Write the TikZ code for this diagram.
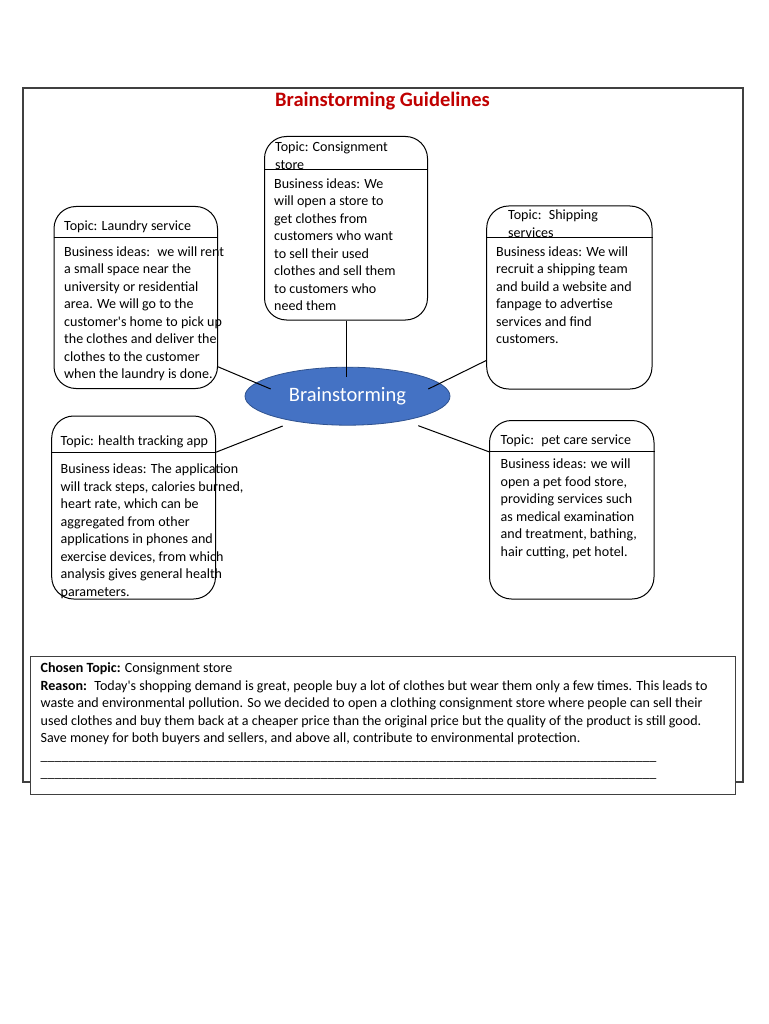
\documentclass[tikz,border=0pt]{standalone}
\usepackage{fontspec}
\setmainfont{Carlito}[Ligatures=TeXOff]
\usetikzlibrary{shapes.geometric,calc}
\definecolor{titlered}{HTML}{C00000}
\definecolor{brainblue}{HTML}{4472C4}
\definecolor{brainedge}{HTML}{2F528F}
\newcommand\fl{\rule{0pt}{12pt}}
\newcommand\usten{\_\_\_\_\_\_\_\_\_\_}
\newcommand\underscoreline{\usten\usten\usten\usten\usten\usten\usten\usten\_\_\_\_\_\_\_\_}
\begin{document}
\begin{tikzpicture}[x=1pt,y=-1pt,
  topicbox/.style={draw=black, line width=1pt, fill=white, rounded corners=22pt, inner sep=0pt},
  txt/.style={anchor=north west, inner sep=0pt, align=left, font=\fontsize{14.05}{17.5}\selectfont},
  link/.style={draw=black, line width=1pt},
  divider/.style={draw=black, line width=0.9pt}]
\useasboundingbox[fill=white] (0,0) rectangle (768,1024);

% outer frame
\node[draw=black!75, line width=1.2pt, minimum width=720pt, minimum height=694pt, inner sep=0pt] (frame) at (383,435) {};

% title
\node[anchor=base, inner sep=0pt, text=titlered, font=\fontsize{20.5}{24}\selectfont\bfseries] (title) at (382.5,107) {Brainstorming Guidelines};

% topic boxes
\node[topicbox, minimum width=163.5pt, minimum height=182pt] (laundry) at (135.75,297.5) {};
\node[topicbox, minimum width=163pt, minimum height=183.5pt] (consign) at (346,228.25) {};
\node[topicbox, minimum width=165.3pt, minimum height=183pt] (ship) at (569.35,297.5) {};
\node[topicbox, minimum width=163.8pt, minimum height=183pt] (health) at (133.6,507.5) {};
\node[topicbox, minimum width=164.5pt, minimum height=178.5pt] (pet) at (571.75,509.75) {};

% dividers
\draw[divider] ($(laundry.north west)+(0,31.2)$) -- ($(laundry.north east)+(0,31.2)$);
\draw[divider] ($(consign.north west)+(0,33.5)$) -- ($(consign.north east)+(0,33.5)$);
\draw[divider] ($(ship.north west)+(0,32.3)$) -- ($(ship.north east)+(0,32.3)$);
\draw[divider] ($(health.north west)+(0,36.7)$) -- ($(health.north east)+(0,36.7)$);
\draw[divider] ($(pet.north west)+(0,31.8)$) -- ($(pet.north east)+(0,31.8)$);

% central ellipse
\node[ellipse, draw=brainedge, line width=0.8pt, fill=brainblue, text=white, inner sep=0pt,
      minimum width=205pt, minimum height=58pt, font=\fontsize{20.5}{24}\selectfont] (brain) at (347.5,396.2) {Brainstorming};

% connectors
\draw[link] (consign.south) -- ($(brain.center)+(-1.5,-19.5)$);
\draw[link] ($(laundry.north east)+(0,160.8)$) -- ($(brain.center)+(-76.8,-7.2)$);
\draw[link] ($(ship.north west)+(0,155)$) -- ($(brain.center)+(80.8,-7.2)$);
\draw[link] ($(health.north east)+(0,36.7)$) -- ($(brain.center)+(-64.8,29.8)$);
\draw[link] ($(pet.north west)+(0,31.8)$) -- ($(brain.center)+(70.8,29.5)$);

% texts: laundry
\node[txt] (laundryTopic) at (64,218) {\fl Topic: Laundry service};
\node[txt] (laundryBody) at (64,244) {\fl Business ideas:~ we will rent\\
a small space near the\\
university or residential\\
area. We will go to the\\
customer's home to pick up\\
the clothes and deliver the\\
clothes to the customer\\
when the laundry is done.};

% consignment
\node[txt] (consignTopic) at (275,139.5) {\fl Topic: Consignment\\ store};
\node[txt] (consignBody) at (274,176) {\fl Business ideas: We\\
will open a store to\\
get clothes from\\
customers who want\\
to sell their used\\
clothes and sell them\\
to customers who\\
need them};

% shipping
\node[txt] (shipTopic) at (508,207.5) {\fl Topic:~ Shipping\\ services};
\node[txt] (shipBody) at (496,244) {\fl Business ideas: We will\\
recruit a shipping team\\
and build a website and\\
fanpage to advertise\\
services and find\\
customers.};

% health
\node[txt] (healthTopic) at (60.5,433.5) {\fl Topic: health tracking app};
\node[txt] (healthBody) at (60.5,461.5) {\fl Business ideas: The application\\
will track steps, calories burned,\\
heart rate, which can be\\
aggregated from other\\
applications in phones and\\
exercise devices, from which\\
analysis gives general health\\
parameters.};

% pet
\node[txt] (petTopic) at (500.5,432.5) {\fl Topic:~ pet care service};
\node[txt] (petBody) at (500.5,456.5) {\fl Business ideas: we will\\
open a pet food store,\\
providing services such\\
as medical examination\\
and treatment, bathing,\\
hair cutting, pet hotel.};

% chosen topic box
\node[draw=black!75, line width=1pt, fill=white, minimum width=704.5pt, minimum height=138.5pt, inner sep=0pt] (chosen) at (382.75,725.25) {};
\node[txt] (chosenText) at (40.5,660.5) {\fl\textbf{Chosen Topic:} Consignment store\\
\textbf{Reason:}~ Today's shopping demand is great, people buy a lot of clothes but wear them only a few times. This leads to\\
waste and environmental pollution. So we decided to open a clothing consignment store where people can sell their\\
used clothes and buy them back at a cheaper price than the original price but the quality of the product is still good.\\
Save money for both buyers and sellers, and above all, contribute to environmental protection.\\
\underscoreline\\
\underscoreline};
\end{tikzpicture}
\end{document}
